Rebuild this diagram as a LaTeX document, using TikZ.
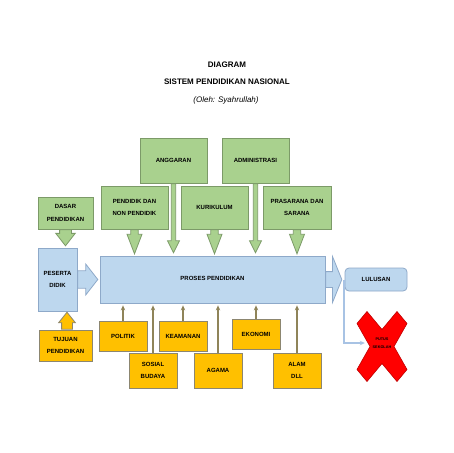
\documentclass[tikz,border=0pt]{standalone}
\usepackage{fontspec}
\setmainfont{Liberation Sans}
\usetikzlibrary{calc,positioning,shapes.arrows,arrows.meta}

\definecolor{grfill}{HTML}{A9D18E}
\definecolor{grline}{HTML}{7C9A68}
\definecolor{blfill}{HTML}{BDD7EE}
\definecolor{blline}{HTML}{8EA9C9}
\definecolor{orfill}{HTML}{FFC000}
\definecolor{orline}{HTML}{8C8670}
\definecolor{upline}{HTML}{8F8459}
\definecolor{xred}{HTML}{FF0000}
\definecolor{xline}{HTML}{C00000}
\definecolor{dropblue}{HTML}{A8C3E4}

\begin{document}
\begin{tikzpicture}[%
      x=1pt, y=-1pt,               % Pixel units, y grows downwards
      >={Stealth[length=5pt,width=4.5pt]},
      ]
  \tikzset{
    base/.style={draw, line width=0.8pt, align=center, inner sep=1pt,
                 font={\fontsize{6}{12.7}\selectfont\bfseries}},
    gproc/.style={base, draw=grline, fill=grfill, minimum width=67pt, minimum height=43pt},
    bproc/.style={base, draw=blline, fill=blfill},
    oproc/.style={base, draw=orline, fill=orfill, minimum width=48pt, minimum height=30pt},
    title/.style={font={\fontsize{8}{10}\selectfont\bfseries}},
    garrow/.style={single arrow, draw=grline, fill=grfill, line width=0.8pt,
                   inner xsep=0pt, anchor=tail},
    barrow/.style={single arrow, draw=blline, fill=blfill, line width=0.8pt,
                   inner xsep=0pt, anchor=tail},
    uparr/.style={->, draw=upline, line width=1.2pt, shorten >=2pt},
    dropl/.style={->, draw=dropblue, line width=1.6pt},
    xcross/.style={draw=xline, fill=xred, line width=0.6pt},
  }

  \fill [white] (0,0) rectangle (453,453);
  \useasboundingbox (0,0) rectangle (453,453);

  % Title
  \node [title] (t1) at (227,65)  {DIAGRAM};
  \node [title] (t2) at (227,82)  {SISTEM PENDIDIKAN NASIONAL};
  \node [font={\fontsize{8}{10}\selectfont\itshape}] (t3) at (226,100) {(Oleh: Syahrullah)};

  % Inputs on top
  \node [gproc, minimum height=45pt] (angg)  at (173.5,160.5) {ANGGARAN};
  \node [gproc, minimum height=45pt] (admin) at (255.5,160.5) {ADMINISTRASI};
  \node [gproc]                      (pend)  at (134.5,207.5) {PENDIDIK DAN\\NON PENDIDIK};
  \node [gproc]                      (kur)   at (214.5,207.5) {KURIKULUM};
  \node [gproc, minimum width=68pt]  (pras)  at (297,207.5)   {PRASARANA DAN\\SARANA};
  \node [gproc, minimum width=55pt, minimum height=32pt] (dasar) at (65.5,213) {DASAR\\PENDIDIKAN};

  % Main row
  \node [bproc, minimum width=39pt, minimum height=63pt]  (pes)    at (57.5,279.5)  {PESERTA\\DIDIK};
  \node [bproc, minimum width=225pt, minimum height=47pt] (proses) at (212.5,279.5) {\raisebox{2.5pt}{PROSES PENDIDIKAN}};
  \node [bproc, rounded corners=4pt, minimum width=62pt, minimum height=23pt] (lul) at (376,279.5) {LULUSAN};

  % Influences below
  \node [oproc, minimum width=53pt, minimum height=31pt] (tuj) at (65.5,345.5) {TUJUAN\\PENDIDIKAN};
  \node [oproc]                      (pol)  at (123,336)   {POLITIK};
  \node [oproc]                      (kea)  at (183,336)   {KEAMANAN};
  \node [oproc]                      (eko)  at (256,334)   {EKONOMI};
  \node [oproc, minimum height=35pt] (sos)  at (153,370.5) {SOSIAL\\BUDAYA};
  \node [oproc, minimum height=35pt] (aga)  at (218,370.5) {AGAMA};
  \node [oproc, minimum height=35pt] (alam) at (297,370.5) {ALAM\\DLL};

  % Block arrows
  \node [garrow, rotate=-90, minimum height=16pt, inner ysep=5.5pt,
         single arrow head extend=3.8pt, single arrow tip angle=76] (adasar) at (dasar.south) {};
  \node [garrow, rotate=-90, minimum height=24pt, inner ysep=3.3pt,
         single arrow head extend=3.8pt, single arrow tip angle=42] (apend) at (pend.south) {};
  \node [garrow, rotate=-90, minimum height=24pt, inner ysep=3.3pt,
         single arrow head extend=3.8pt, single arrow tip angle=42] (akur) at (kur.south) {};
  \node [garrow, rotate=-90, minimum height=24pt, inner ysep=3.3pt,
         single arrow head extend=3.8pt, single arrow tip angle=42] (apras) at (pras.south) {};
  \node [garrow, rotate=-90, minimum height=69pt, inner ysep=1.8pt,
         single arrow head extend=3.8pt, single arrow tip angle=53] (aangg) at (angg.south) {};
  \node [garrow, rotate=-90, minimum height=69pt, inner ysep=1.8pt,
         single arrow head extend=3.8pt, single arrow tip angle=53] (aadmin) at (admin.south) {};
  \node [barrow, minimum height=20pt, inner ysep=8.3pt,
         single arrow head extend=6.7pt, single arrow tip angle=104] (apes) at (pes.east) {};
  \node [barrow, minimum height=16pt, inner ysep=7.5pt,
         single arrow head extend=15pt, single arrow tip angle=136] (aproses) at (proses.east) {};
  \node [oproc, single arrow, rotate=90, minimum width=0pt, minimum height=17pt, inner xsep=0pt,
         inner ysep=5pt, single arrow head extend=3pt, single arrow tip angle=77, anchor=tail]
         (atuj) at ([xshift=1.5pt]tuj.north) {};

  % Thin arrows into the process
  \draw [uparr] (pol.north)  -- (pol.north  |- proses.south);
  \draw [uparr] (sos.north)  -- (sos.north  |- proses.south);
  \draw [uparr] (kea.north)  -- (kea.north  |- proses.south);
  \draw [uparr] (aga.north)  -- (aga.north  |- proses.south);
  \draw [uparr] (eko.north)  -- (eko.north  |- proses.south);
  \draw [uparr] (alam.north) -- (alam.north |- proses.south);

  % Drop out
  \coordinate (xc) at (382,346.5);
  \draw [xcross, shift={(xc)}]
    (-15,-35) -- (0,-17) -- (15,-35) -- (25,-23) -- (12,0) -- (25,23) -- (15,35)
    -- (0,17) -- (-15,35) -- (-25,23) -- (-12,0) -- (-25,-23) -- cycle;
  \node [font={\fontsize{3.8}{8}\selectfont\bfseries}, align=center, inner sep=0pt,
         minimum width=34pt] (putus) at (382,343) {PUTUS\\SEKOLAH};
  \draw [dropl] ([xshift=2pt]aproses.tip) |- (putus.west);

\end{tikzpicture}
\end{document}
